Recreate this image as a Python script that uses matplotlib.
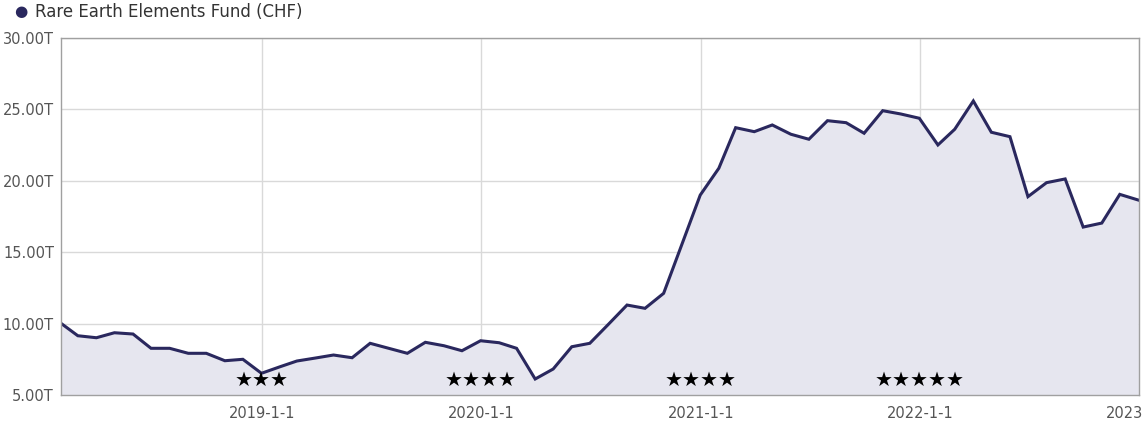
import numpy as np
import pandas as pd
import matplotlib
matplotlib.use("Agg")
import matplotlib.pyplot as plt
import matplotlib.dates as mdates
import matplotlib.transforms as mtransforms


FUND_NAME = "Rare Earth Elements Fund (CHF)"

# month-end values (trillions)
MONTHS = pd.date_range("2018-01-31", "2022-12-31", freq="ME")
VALUES = [
    10.02, 9.15, 9.01, 9.36, 9.27, 8.27, 8.27, 7.92, 7.92, 7.40, 7.50, 6.52,
    6.98, 7.38, 7.59, 7.80, 7.61, 8.62, 8.27, 7.92, 8.69, 8.45, 8.10, 8.80,
    8.66, 8.27, 6.12, 6.82, 8.38, 8.62, 9.95, 11.30, 11.07, 12.12, 15.50, 19.00,
    20.88, 23.72, 23.44, 23.91, 23.26, 22.91, 24.21, 24.07, 23.33, 24.91, 24.68, 24.38,
    22.51, 23.61, 25.59, 23.40, 23.09, 18.89, 19.87, 20.13, 16.76, 17.04, 19.05, 18.65,
]

# star ratings shown at the start of each year
RATING_DATES = ["2019-01-01", "2020-01-01", "2021-01-01", "2022-01-01"]
RATING_STARS = [3, 4, 4, 5]

Y_TICKS = [5, 10, 15, 20, 25, 30]
X_TICKS = ["2019-01-01", "2020-01-01", "2021-01-01", "2022-01-01", "2023-01-01"]
X_TICK_LABELS = ["2019-1-1", "2020-1-1", "2021-1-1", "2022-1-1", "2023-1-1"]

LINE_COLOR = "#2a285e"
FILL_COLOR = "#e6e6ef"
GRID_COLOR = "#d9d9d9"
FRAME_COLOR = "#a0a0a0"
TEXT_COLOR = "#555555"


def main():
    fig = plt.figure(figsize=(11.42, 4.23), dpi=100)
    ax = fig.add_axes([61 / 1142, 28 / 423, (1139 - 61) / 1142, (395 - 38) / 423])

    dates = MONTHS.to_pydatetime()
    ax.fill_between(dates, VALUES, 5, color=FILL_COLOR, lw=0, zorder=1)
    ax.plot(dates, VALUES, color=LINE_COLOR, lw=2.2, zorder=3,
            solid_joinstyle="miter")

    ax.set_ylim(5, 30)
    ax.set_xlim(pd.Timestamp("2018-01-31"), pd.Timestamp("2023-01-01"))

    ax.set_yticks(Y_TICKS)
    ax.set_yticklabels([f"{v:.2f}T" for v in Y_TICKS])
    ax.set_xticks([pd.Timestamp(d) for d in X_TICKS])
    ax.set_xticklabels(X_TICK_LABELS)

    ax.tick_params(axis="both", length=0, labelsize=10.5, colors=TEXT_COLOR)
    ax.tick_params(axis="x", pad=8)
    ax.tick_params(axis="y", pad=5)
    for lbl in ax.get_xticklabels():
        lbl.set_clip_on(False)

    ax.grid(True, color=GRID_COLOR, lw=1, zorder=0)
    ax.set_axisbelow(True)
    for side in ax.spines.values():
        side.set_color(FRAME_COLOR)
        side.set_linewidth(1)
        side.set_zorder(4)

    # star ratings
    trans = mtransforms.blended_transform_factory(ax.transData, ax.transAxes)
    for d, n in zip(RATING_DATES, RATING_STARS):
        ax.text(mdates.date2num(pd.Timestamp(d)), 0.042, "\u2605" * n,
                transform=trans, ha="center", va="center", fontsize=14.5,
                color="black", zorder=5)

    # legend
    fig.text(21 / 1142, 1 - 12 / 423, "\u25cf", color=LINE_COLOR, fontsize=11,
             ha="center", va="center")
    fig.text(35 / 1142, 1 - 12 / 423, FUND_NAME, color="#333333", fontsize=12,
             ha="left", va="center")

    fig.savefig("out.png", dpi=100)
    plt.close(fig)


if __name__ == "__main__":
    main()
